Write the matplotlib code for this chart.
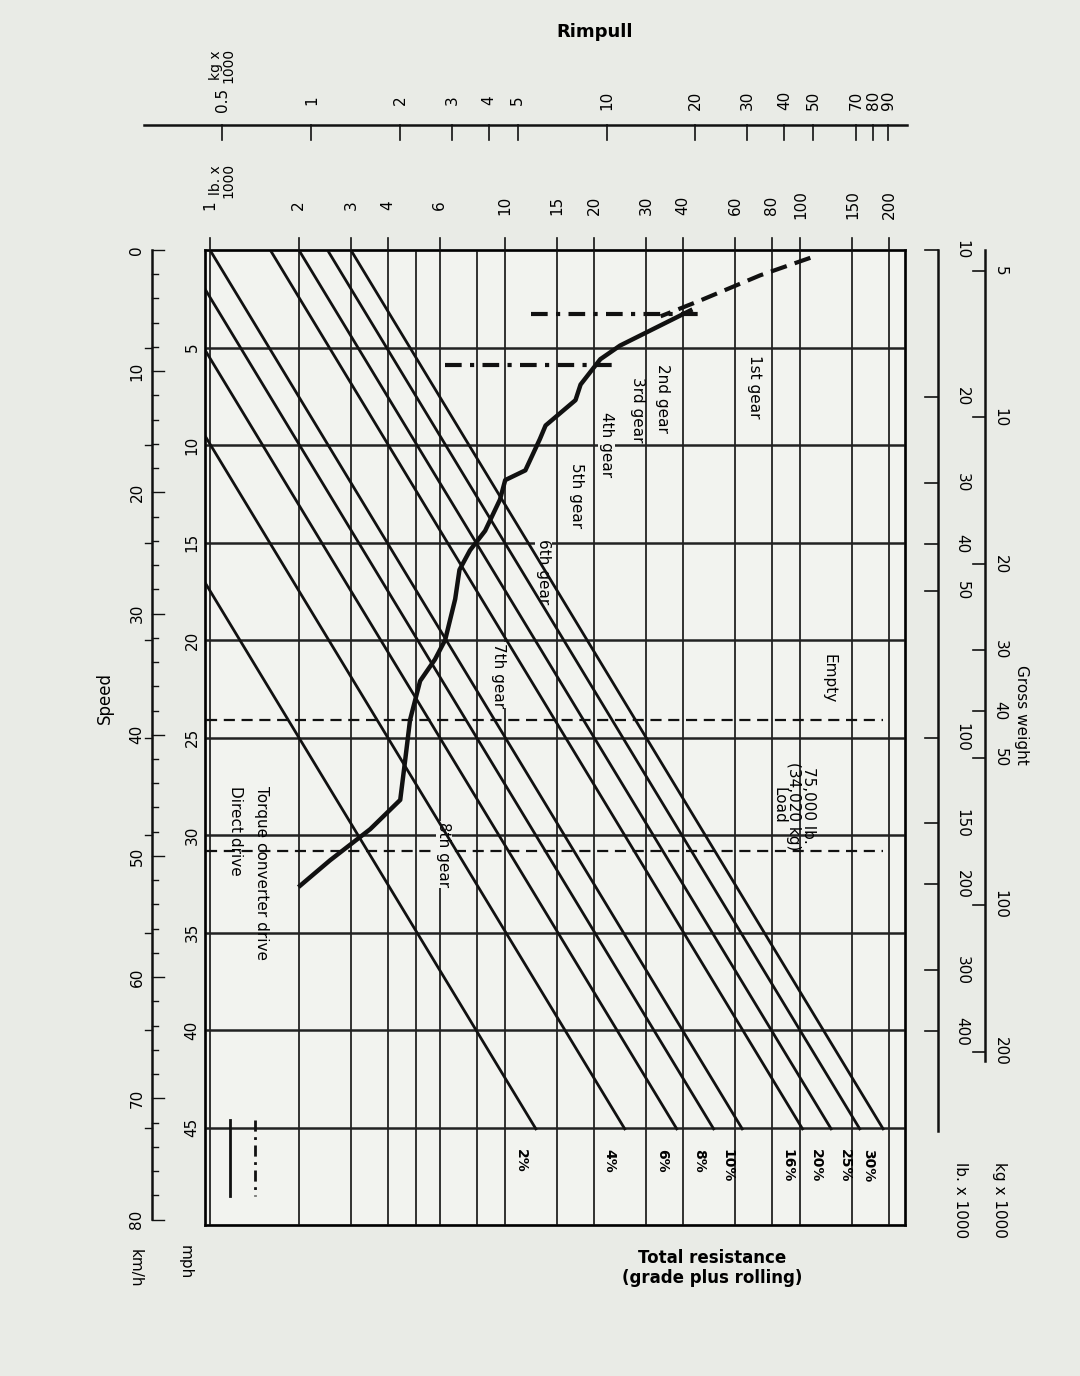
import numpy as np
import matplotlib
matplotlib.use("Agg")
import matplotlib.pyplot as plt
from matplotlib import transforms as mt

# ---- data ----
resist_pct = [2, 4, 6, 8, 10, 16, 20, 25, 30]
grid_rimpull = [1, 2, 3, 4, 5, 6, 8, 10, 15, 20, 30, 40, 60, 80, 100, 150, 200]
lb_ticks = [1, 2, 3, 4, 6, 10, 15, 20, 30, 40, 60, 80, 100, 150, 200]
kg_ticks = [0.5, 1, 2, 3, 4, 5, 10, 20, 30, 40, 50, 70, 80, 90]
mph_ticks = [5, 10, 15, 20, 25, 30, 35, 40, 45]
kmh_ticks = [0, 10, 20, 30, 40, 50, 60, 70, 80]
gw_lb_ticks = [10, 20, 30, 40, 50, 100, 150, 200, 300, 400]
gw_kg_ticks = [5, 10, 20, 30, 40, 50, 100, 200]
curve_rimpull = [42.4, 24.5, 21.0, 18.0, 17.3, 13.7, 13.1, 11.7, 10.0, 9.6, 8.55, 7.6,
                 7.0, 6.77, 6.26, 5.78, 5.15, 4.76, 4.58, 4.41, 3.49, 2.55, 2.02]
curve_mph = [3.1, 4.9, 5.6, 6.9, 7.7, 9.0, 9.7, 11.3, 11.8, 12.8, 14.4, 15.4,
             16.4, 17.9, 20.0, 21.0, 22.1, 24.1, 26.2, 28.2, 29.7, 31.3, 32.6]
g1_rimpull = [108, 73, 45.6, 33.6]
g1_mph = [0.4, 1.3, 2.6, 3.4]
g1_drop_rimpull = [12.2, 45]
g1_drop_mph = 3.3
g2_drop_rimpull = [6.25, 24.5]
g2_drop_mph = 5.9
empty_mph = 24.1
load_mph = 30.8
gear_labels = ["1st gear", "2nd gear", "3rd gear", "4th gear", "5th gear", "6th gear", "7th gear", "8th gear"]
gear_lab_rimpull = [70, 34, 28, 22, 17.5, 13.5, 9.5, 6.2]
gear_lab_mph = [7.0, 7.6, 8.2, 10.0, 12.6, 16.5, 21.8, 31.0]

W, H = 1080, 1376
fig = plt.figure(figsize=(W/100, H/100), dpi=100)
fig.patch.set_facecolor("#e9ebe6")
ax = fig.add_axes([205/W, 1-1225/H, 700/W, 975/H])
ax.set_facecolor("#f2f3ef")
ax.set_xscale("log")
ax.set_xlim(0.962, 226)
ax.set_ylim(50, 0)
ax.set_xticks([]); ax.set_yticks([])
ax.minorticks_off()
for s in ax.spines.values():
    s.set_linewidth(2); s.set_color("#111")

for r in grid_rimpull:
    ax.axvline(r, color="#222", lw=1.3)
for m in mph_ticks:
    ax.axhline(m, color="#222", lw=1.8)

ax2 = ax.twinx()
ax2.set_yscale("log")
ax2.set_ylim(1000, 10)
ax2.set_yticks([]); ax2.minorticks_off()
ax2.yaxis.set_visible(False)
Wg = np.logspace(1, np.log10(635), 200)
for g in resist_pct:
    ax2.plot(g/100*Wg, Wg, color="#111", lw=2)
    ax2.text(g/100*565, 700, f"{g}%", rotation=-90, ha="center", va="top",
             fontsize=10, fontweight="bold")

ax.plot(curve_rimpull, curve_mph, color="#111", lw=3.2)
ax.plot(g1_rimpull, g1_mph, color="#111", lw=3, ls=(0, (4, 2)))
ax.plot(g1_drop_rimpull, [g1_drop_mph]*2, color="#111", lw=3, ls=(0, (4, 2, 1, 2)))
ax.plot(g2_drop_rimpull, [g2_drop_mph]*2, color="#111", lw=3, ls=(0, (4, 2, 1, 2)))
ax.plot([0.97, 190], [empty_mph]*2, color="#111", lw=1.6, ls=(0, (5, 3)))
ax.plot([0.97, 190], [load_mph]*2, color="#111", lw=1.6, ls=(0, (5, 3)))
for t, r, m in zip(gear_labels, gear_lab_rimpull, gear_lab_mph):
    ax.text(r, m, t, rotation=-90, ha="center", va="center", fontsize=11,
            bbox=dict(fc="#f2f3ef", ec="none", pad=0.5))
ax.text(125, 22.0, "Empty", rotation=-90, ha="center", va="center", fontsize=11)
ax.text(95, 28.5, "75,000 lb.\n(34,020 kg)\nLoad", rotation=-90, ha="center", va="center",
        fontsize=11, linespacing=1.0, multialignment="center")
ax.text(1.5, 27.5, "Torque converter drive", rotation=-90, ha="center", va="top", fontsize=11)
ax.text(1.22, 27.5, "Direct drive", rotation=-90, ha="center", va="top", fontsize=11)
ax.plot([1.42, 1.42], [44.6, 48.5], color="#111", lw=2, ls=(0, (4, 2, 1, 2)))
ax.plot([1.17, 1.17], [44.6, 48.5], color="#111", lw=2)

# left rimpull scales (x data, y figure)
tb = mt.blended_transform_factory(ax.transData, fig.transFigure)
def fy(p): return 1-p/H
def fx(p): return p/W
for v in lb_ticks:
    fig.lines.append(plt.Line2D([v, v], [fy(250), fy(238)], transform=tb, color="#111", lw=1.2))
    fig.text(v, fy(205), str(v), transform=tb, rotation=90, ha="center", va="center", fontsize=11)
fig.lines.append(plt.Line2D([0.6, 230], [fy(125)]*2, transform=tb, color="#111", lw=1.8))
for v in kg_ticks:
    fig.lines.append(plt.Line2D([v*2.2046]*2, [fy(125), fy(140)], transform=tb, color="#111", lw=1.2))
    fig.text(v*2.2046, fy(100), str(v), transform=tb, rotation=90, ha="center", va="center", fontsize=11)
fig.text(fx(222), fy(65), "kg x\n1000", rotation=90, ha="center", va="center", fontsize=10, linespacing=0.9)
fig.text(fx(222), fy(180), "lb. x\n1000", rotation=90, ha="center", va="center", fontsize=10, linespacing=0.9)
fig.text(fx(595), fy(32), "Rimpull", ha="center", va="center", fontsize=13, fontweight="bold")

# speed scales (x figure, y data)
ts = mt.blended_transform_factory(fig.transFigure, ax.transData)
for m in mph_ticks:
    fig.text(fx(192), m, str(m), transform=ts, rotation=90, ha="center", va="center", fontsize=11)
fig.lines.append(plt.Line2D([fx(152)]*2, [0, 49.7], transform=ts, color="#111", lw=1.8))
for k in range(0, 81, 2):
    ln = 12 if k % 10 == 0 else 6
    fig.lines.append(plt.Line2D([fx(152), fx(152+ln)], [k/1.609]*2, transform=ts, color="#111", lw=1))
for m in mph_ticks:
    fig.lines.append(plt.Line2D([fx(145), fx(152)], [m, m], transform=ts, color="#111", lw=1))
for k in kmh_ticks:
    fig.text(fx(137), k/1.609, str(k), transform=ts, rotation=90, ha="center", va="center", fontsize=11)
fig.text(fx(105), 23.0, "Speed", transform=ts, rotation=90, ha="center", va="center", fontsize=12)
fig.text(fx(185), fy(1262), "mph", rotation=-90, ha="center", va="center", fontsize=11)
fig.text(fx(135), fy(1268), "km/h", rotation=-90, ha="center", va="center", fontsize=11)

# gross weight scales (x figure, y weight data)
tw = mt.blended_transform_factory(fig.transFigure, ax2.transData)
fig.lines.append(plt.Line2D([fx(938)]*2, [10, 640], transform=tw, color="#111", lw=1.8))
for v in gw_lb_ticks:
    fig.lines.append(plt.Line2D([fx(925), fx(938)], [v, v], transform=tw, color="#111", lw=1.2))
    fig.text(fx(962), v, str(v), transform=tw, rotation=-90, ha="center", va="center", fontsize=11)
fig.lines.append(plt.Line2D([fx(985)]*2, [10, 460], transform=tw, color="#111", lw=1.8))
for v in gw_kg_ticks:
    fig.lines.append(plt.Line2D([fx(973), fx(985)], [v*2.2046]*2, transform=tw, color="#111", lw=1.2))
    fig.text(fx(1000), v*2.2046, str(v), transform=tw, rotation=-90, ha="center", va="center", fontsize=11)
fig.text(fx(1022), fy(715), "Gross weight", rotation=-90, ha="center", va="center", fontsize=11)
fig.text(fx(960), fy(1200), "lb. x 1000", rotation=-90, ha="center", va="center", fontsize=11)
fig.text(fx(1000), fy(1200), "kg x 1000", rotation=-90, ha="center", va="center", fontsize=11)
fig.text(fx(712), fy(1268), "Total resistance\n(grade plus rolling)", ha="center", va="center",
         fontsize=12, fontweight="bold", rotation=0)

fig.savefig("out.png", dpi=100, facecolor=fig.get_facecolor())
